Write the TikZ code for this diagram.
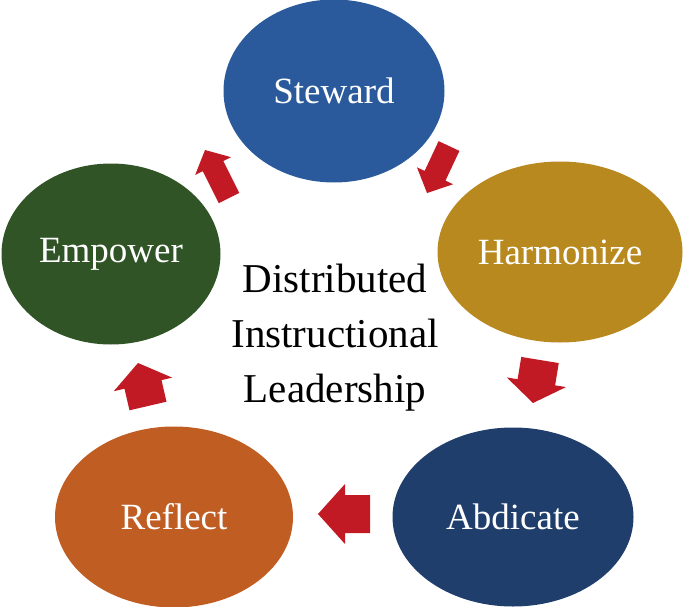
\documentclass[tikz,border=0pt]{standalone}
\usepackage{fontspec}
\setmainfont{Liberation Serif}
\usetikzlibrary{shapes.geometric,calc}
\definecolor{cSteward}{HTML}{2A5A9B}
\definecolor{cHarmonize}{HTML}{B8891E}
\definecolor{cAbdicate}{HTML}{1F3E6C}
\definecolor{cReflect}{HTML}{C05D22}
\definecolor{cEmpower}{HTML}{305426}
\definecolor{cRed}{HTML}{C21A24}
% #1 name, #2 tail, #3 tip, #4 half shaft, #5 half head, #6 head length
\newcommand\myblockarrow[6]{%
  \coordinate (#1t) at #2;
  \coordinate (#1p) at #3;
  \coordinate (#1h) at ($(#1p)!#6!(#1t)$);
  \fill[arrowfill] ($(#1t)!#4!90:(#1p)$) -- ($(#1h)!#4!-90:(#1t)$)
    -- ($(#1h)!#5!-90:(#1t)$) -- (#1p) -- ($(#1h)!#5!90:(#1t)$)
    -- ($(#1h)!#4!90:(#1t)$) -- ($(#1t)!#4!-90:(#1p)$) -- cycle;
}
\begin{document}
\begin{tikzpicture}[x=1pt,y=-1pt,
  phase/.style={ellipse, inner sep=0pt, text=white, font=\fontsize{37}{44}\selectfont},
  arrowfill/.style={fill=cRed, draw=none}
]
\useasboundingbox (0,0) rectangle (685,607);
\node[phase, fill=cSteward, minimum width=221pt, minimum height=183pt] (steward) at (334,91) {Steward};
\node[phase, fill=cHarmonize, minimum width=245pt, minimum height=181pt] (harmonize) at (560,252) {Harmonize};
\node[phase, fill=cAbdicate, minimum width=241pt, minimum height=179pt] (abdicate) at (513,517) {Abdicate};
\node[phase, fill=cReflect, minimum width=238pt, minimum height=181pt] (reflect) at (174,517) {Reflect};
\node[phase, fill=cEmpower, minimum width=219pt, minimum height=181pt] (empower) at (111,254) {Empower};

\node[align=center, font=\fontsize{41}{55}\selectfont] (center) at (335,338) {Distributed\\Instructional\\Leadership};

\myblockarrow{a1}{(229,198)}{(205,150)}{11.5pt}{20pt}{18pt}
\myblockarrow{a2}{(449,146)}{(427,193)}{11.5pt}{20pt}{19pt}
\myblockarrow{a3}{(540,360)}{(533,403)}{19pt}{30pt}{21pt}
\myblockarrow{a4}{(370,514)}{(318,514)}{19pt}{30pt}{27pt}
\myblockarrow{a5}{(148,406)}{(138,363)}{19pt}{30pt}{22pt}
\end{tikzpicture}
\end{document}
